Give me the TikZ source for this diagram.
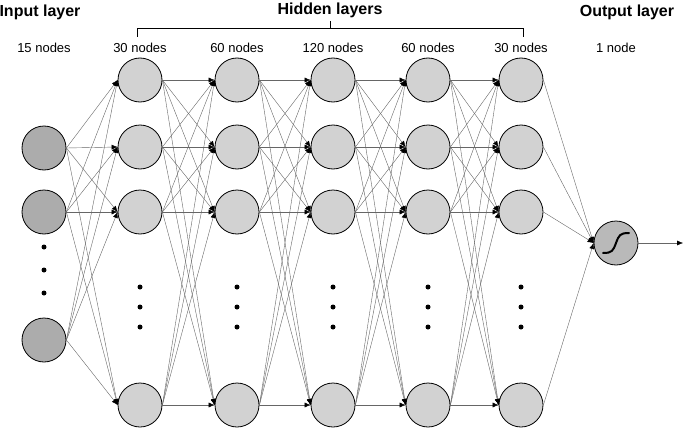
\documentclass[tikz,border=0pt]{standalone}
\usepackage{fontspec}
\setmainfont{Liberation Sans}
\usetikzlibrary{arrows.meta}
\begin{document}
\begin{tikzpicture}[x=1pt,y=-1pt,
  neuron/.style={circle,draw=black,line width=0.8pt,fill=gray!35,minimum size=44pt,inner sep=0pt},
  inneuron/.style={neuron,fill=gray!65},
  conn/.style={draw=gray!80!black,line width=0.4pt,-{Latex[length=6pt,width=5pt,black]}},
  lbl/.style={font=\fontsize{13}{15}\selectfont},
  ttl/.style={font=\fontsize{16}{18}\selectfont\bfseries},
  dot/.style={circle,fill=black,inner sep=0pt,minimum size=5pt}]
\useasboundingbox (0,0) rectangle (685,428);
% input
\foreach \i/\y in {1/148,2/212,3/340} \node[inneuron] (i\i) at (44,\y) {};
\foreach \k/\y in {1/247,2/270,3/293} \node[dot] (id\k) at (44,\y) {};
% hidden
\foreach \c/\x in {1/140,2/237,3/333,4/428,5/521}{
  \foreach \r/\y in {1/80,2/147,3/212,4/405} \node[neuron] (h\c\r) at (\x,\y) {};
  \foreach \k/\y in {1/287,2/307,3/327} \node[dot] (hd\c\k) at (\x,\y) {};
}
\node[inneuron,fill=gray!55] (o) at (616,243) {};
\draw[line width=2pt,line cap=round] (o.center) ++(-13,10) .. controls ++(9,0) and ++(-3,8) .. (o.center) .. controls ++(3,-8) and ++(-9,0) .. ++(13,-10);
\coordinate (oe) at (683,243);
% connections
\foreach \a in {1,2,3}\foreach \b in {1,2,3,4} \draw[conn] (i\a.east) -- (h1\b.west);
\foreach \c/\n in {1/2,2/3,3/4,4/5}\foreach \a in {1,2,3,4}\foreach \b in {1,2,3,4} \draw[conn] (h\c\a.east) -- (h\n\b.west);
\foreach \a in {1,2,3,4} \draw[conn] (h5\a.east) -- (o.west);
\draw[conn] (o.east) -- (oe);
% labels
\node[ttl] (t1) at (40,12) {Input layer};
\node[ttl] (t2) at (330,10) {Hidden layers};
\node[ttl] (t3) at (627,12) {Output layer};
\node[lbl] (n0) at (44,48) {15 nodes};
\node[lbl] (n1) at (140,48) {30 nodes};
\node[lbl] (n2) at (237,48) {60 nodes};
\node[lbl] (n3) at (333,48) {120 nodes};
\node[lbl] (n4) at (428,48) {60 nodes};
\node[lbl] (n5) at (521,48) {30 nodes};
\node[lbl] (n6) at (616,48) {1 node};
\draw[line width=0.8pt] (137,37) -- (137,28) -- (523,28) -- (523,37) (330,28) -- (330,21);
\end{tikzpicture}
\end{document}
